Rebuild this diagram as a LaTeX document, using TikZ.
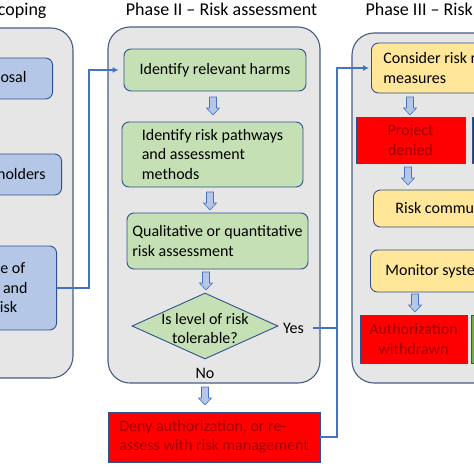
\documentclass[tikz,border=0pt]{standalone}
\usepackage{fontspec}
\setmainfont{Carlito}
\usetikzlibrary{shapes.geometric,arrows.meta}
\definecolor{panelfill}{HTML}{E7E6E6}
\definecolor{panelline}{HTML}{4A5D80}
\definecolor{bluefill}{HTML}{B4C7E7}
\definecolor{boxline}{HTML}{2F528F}
\definecolor{greenfill}{HTML}{C5E0B4}
\definecolor{yellowfill}{HTML}{FFE699}
\definecolor{redfill}{HTML}{FF0000}
\definecolor{redtext}{HTML}{A00000}
\definecolor{connblue}{HTML}{4472C4}
\definecolor{navyfill}{HTML}{203864}
\definecolor{greenbar}{HTML}{70AD47}
\begin{document}
\begin{tikzpicture}[x=1pt,y=-1pt,
  panel/.style={draw=panelline, fill=panelfill, line width=1.1pt, rounded corners=22pt, inner sep=0pt},
  boxtext/.style={font=\fontsize{16}{19.5}\selectfont},
  rbox/.style={boxtext, draw=boxline, line width=0.9pt, rounded corners=7pt, inner sep=0pt},
  bluebox/.style={rbox, fill=bluefill},
  greenbox/.style={rbox, fill=greenfill},
  yellowbox/.style={rbox, fill=yellowfill},
  redbox/.style={boxtext, draw=boxline, line width=0.9pt, fill=redfill, text=redtext, inner sep=0pt, align=center},
  stubbox/.style={draw=boxline, line width=0.9pt, anchor=west, minimum width=60pt, inner sep=0pt},
  blockarrow/.pic={\draw[draw=connblue, fill=bluefill, line width=0.6pt]
     (-3.5,-9) -- (3.5,-9) -- (3.5,2) -- (6.5,2) -- (0,9) -- (-6.5,2) -- (-3.5,2) -- cycle;},
  conn/.style={draw=connblue, line width=1.1pt, -{Latex[length=6pt,width=6pt]}},
  link/.style={draw=connblue, line width=1.1pt},
  phasetitle/.style={font=\fontsize{18}{21}\selectfont}
]
\useasboundingbox (0,0) rectangle (474,474);
\clip (0,0) rectangle (474,474);
\fill[white] (0,0) rectangle (474,474);

% panels
\node[panel, minimum width=113pt, minimum height=350pt] (p1) at (16.5,203) {};
\node[panel, minimum width=212pt, minimum height=356pt] (p2) at (214,205) {};
\node[panel, minimum width=208pt, minimum height=350pt] (p3) at (456,208) {};

% titles
\node[phasetitle, anchor=base east] (t1) at (50,15) {Phase I -- Scoping};
\node[phasetitle, anchor=base] (t2) at (221.5,15) {Phase II -- Risk assessment};
\node[phasetitle, anchor=base west] (t3) at (362,15) {Phase III -- Risk management};

% Phase I
\node[bluebox, anchor=east, minimum height=41pt, inner xsep=26pt] (b1) at (53,78.5) {proposal};
\node[bluebox, anchor=east, minimum height=41pt, inner xsep=16pt] (b2) at (62,174.5) {stakeholders};
\node[bluebox, anchor=east, minimum height=84pt, inner xsep=29pt, align=left] (b3) at (57,288) {Define scope of\\assessment and\\sources of risk};

% Phase II
\node[greenbox, minimum width=182pt, minimum height=42pt] (h1) at (215,70) {Identify relevant harms};
\node[greenbox, minimum width=181pt, minimum height=65pt, align=left] (h2) at (212.5,154.5) {Identify risk pathways\\and assessment\\methods};
\node[greenbox, minimum width=181pt, minimum height=56pt, align=left] (h3) at (217.5,241) {Qualitative or quantitative\\risk assessment};
\node[diamond, draw=boxline, fill=greenfill, line width=0.9pt, minimum width=146pt, minimum height=66pt, inner sep=0pt] (d) at (205,326) {};
\node[boxtext, align=center] (dt) at (205,328.5) {Is level of risk\\tolerable?};
\node[boxtext] (yes) at (293.5,328) {Yes};
\node[boxtext] (no) at (205,373) {No};
\pic (a1) at (213,106) {blockarrow};
\pic (a2) at (210,201) {blockarrow};
\pic (a3) at (206,281) {blockarrow};
\pic (a4) at (205,396) {blockarrow};
\node[redbox, minimum width=212pt, minimum height=50pt, align=left] (deny) at (214,437) {Deny authorization, or re-\\assess with risk management};

% Phase III
\node[yellowbox, anchor=west, minimum height=50pt, inner xsep=12pt, align=left] (c1) at (371,68) {Consider risk management\\measures};
\node[redbox, minimum width=109pt, minimum height=46pt] (pd) at (410.5,140) {Project\\denied};
\node[stubbox, fill=navyfill, minimum height=46pt] (pa) at (472,140) {};
\node[yellowbox, anchor=west, minimum height=37pt, inner xsep=22pt] (rc) at (373,208.5) {Risk communication};
\node[yellowbox, anchor=west, minimum height=42pt, inner xsep=15pt] (ms) at (370,271) {Monitor system};
\node[redbox, minimum width=107pt, minimum height=48pt] (aw) at (413.5,339) {Authorization\\withdrawn};
\node[stubbox, fill=greenbar, minimum height=48pt] (ac) at (471,339) {};
\pic (a5) at (410,106) {blockarrow};
\pic (a6) at (408,176) {blockarrow};
\pic (a7) at (415,303) {blockarrow};

% connectors
\coordinate (busL) at (89,180);
\coordinate (busR) at (337,250);
\draw[conn, shorten >=5pt] (b3.east) -| (busL) |- (h1.west);
\draw[conn, shorten >=2pt] (deny.east) -| (busR) |- (c1.west);
\draw[link] ([xshift=6pt]yes.east) -- (yes.east -| busR);
\end{tikzpicture}
\end{document}
